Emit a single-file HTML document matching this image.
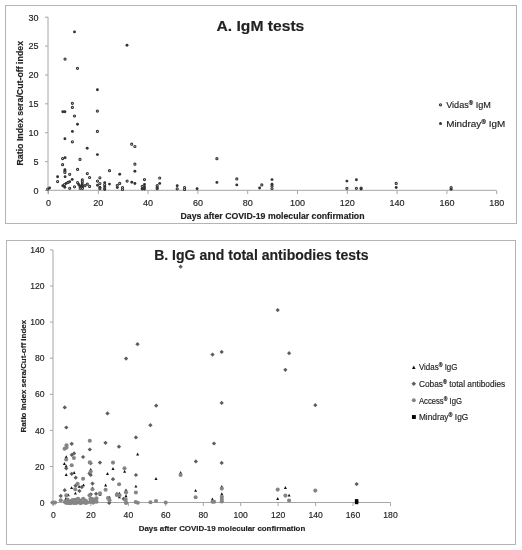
<!DOCTYPE html>
<html lang="en"><head><meta charset="utf-8"><title>IgM and IgG tests</title>
<style>html,body{margin:0;padding:0;background:#fff}svg{display:block}text{font-family:"Liberation Sans",sans-serif;fill:#222;stroke:#222;stroke-width:0.15px}</style>
</head><body>
<svg width="522" height="550" viewBox="0 0 522 550">
<rect width="522" height="550" fill="#fff"/>
<rect x="5.5" y="5.5" width="511" height="218" fill="#fff" stroke="#b4b4b4" stroke-width="1"/>
<rect x="6.5" y="240.5" width="509" height="304" fill="#fff" stroke="#b4b4b4" stroke-width="1"/>
<g stroke="#a6a6a6" stroke-width="1" fill="none">
<path d="M48 17 V194 M48 190.3 H496.5"/>
<path d="M45 190.5 H48"/>
<path d="M45 161.6 H48"/>
<path d="M45 132.7 H48"/>
<path d="M45 103.8 H48"/>
<path d="M45 75.0 H48"/>
<path d="M45 46.1 H48"/>
<path d="M45 17.2 H48"/>
<path d="M48.5 190.5 V194"/>
<path d="M98.3 190.5 V194"/>
<path d="M148.1 190.5 V194"/>
<path d="M197.9 190.5 V194"/>
<path d="M247.7 190.5 V194"/>
<path d="M297.5 190.5 V194"/>
<path d="M347.3 190.5 V194"/>
<path d="M397.1 190.5 V194"/>
<path d="M446.9 190.5 V194"/>
<path d="M496.7 190.5 V194"/>
</g>
<text x="38.5" y="193.8" font-size="9" text-anchor="end">0</text>
<text x="38.5" y="164.9" font-size="9" text-anchor="end">5</text>
<text x="38.5" y="136.0" font-size="9" text-anchor="end">10</text>
<text x="38.5" y="107.1" font-size="9" text-anchor="end">15</text>
<text x="38.5" y="78.3" font-size="9" text-anchor="end">20</text>
<text x="38.5" y="49.4" font-size="9" text-anchor="end">25</text>
<text x="38.5" y="20.5" font-size="9" text-anchor="end">30</text>
<text x="48.5" y="206.4" font-size="9" text-anchor="middle">0</text>
<text x="98.3" y="206.4" font-size="9" text-anchor="middle">20</text>
<text x="148.1" y="206.4" font-size="9" text-anchor="middle">40</text>
<text x="197.9" y="206.4" font-size="9" text-anchor="middle">60</text>
<text x="247.7" y="206.4" font-size="9" text-anchor="middle">80</text>
<text x="297.5" y="206.4" font-size="9" text-anchor="middle">100</text>
<text x="347.3" y="206.4" font-size="9" text-anchor="middle">120</text>
<text x="397.1" y="206.4" font-size="9" text-anchor="middle">140</text>
<text x="446.9" y="206.4" font-size="9" text-anchor="middle">160</text>
<text x="496.7" y="206.4" font-size="9" text-anchor="middle">180</text>
<text x="216.5" y="30.5" font-size="15" font-weight="bold" textLength="87.8" lengthAdjust="spacingAndGlyphs" fill="#000">A. IgM tests</text>
<text x="180.5" y="218.5" font-size="8.3" font-weight="bold" textLength="184" lengthAdjust="spacingAndGlyphs" fill="#000">Days after COVID-19 molecular confirmation</text>
<text transform="translate(22.7 165.5) rotate(-90)" font-size="8.3" font-weight="bold" textLength="124.6" lengthAdjust="spacingAndGlyphs" fill="#000">Ratio Index sera/Cut-off index</text>
<circle cx="440.5" cy="104.8" r="1.05" fill="#e8e8e8" stroke="#333" stroke-width="1.1"/>
<text x="446.2" y="108.2" font-size="8.8" textLength="44.7" lengthAdjust="spacingAndGlyphs">Vidas<tspan font-size="5.8" font-weight="bold" dy="-3">®</tspan><tspan dy="3"> IgM</tspan></text>
<circle cx="440.5" cy="123.5" r="1.5" fill="#333"/>
<text x="446.2" y="126.8" font-size="8.8" textLength="59" lengthAdjust="spacingAndGlyphs">Mindray<tspan font-size="5.8" font-weight="bold" dy="-3">®</tspan><tspan dy="3">  IgM</tspan></text>
<g fill="#e8e8e8" stroke="#333" stroke-width="1.1">
<circle cx="65.05" cy="59.1" r="1.05"/>
<circle cx="77.5" cy="68.3" r="1.05"/>
<circle cx="72.4" cy="103.3" r="1.05"/>
<circle cx="72.4" cy="107.4" r="1.05"/>
<circle cx="97.4" cy="111.1" r="1.05"/>
<circle cx="74.5" cy="116" r="1.05"/>
<circle cx="97.4" cy="131.4" r="1.05"/>
<circle cx="72.4" cy="141.8" r="1.05"/>
<circle cx="62.6" cy="158.6" r="1.05"/>
<circle cx="80.0" cy="159.4" r="1.05"/>
<circle cx="62.6" cy="164.7" r="1.05"/>
<circle cx="64.9" cy="171.1" r="1.05"/>
<circle cx="64.9" cy="172.5" r="1.05"/>
<circle cx="77.6" cy="169.4" r="1.05"/>
<circle cx="69.7" cy="174.3" r="1.05"/>
<circle cx="57.6" cy="181.6" r="1.05"/>
<circle cx="64.5" cy="184.5" r="1.05"/>
<circle cx="68.0" cy="182.4" r="1.05"/>
<circle cx="69.7" cy="188.3" r="1.05"/>
<circle cx="74.5" cy="186.8" r="1.05"/>
<circle cx="77.6" cy="182.6" r="1.05"/>
<circle cx="82.3" cy="179.9" r="1.05"/>
<circle cx="82.3" cy="181.8" r="1.05"/>
<circle cx="80.2" cy="186.4" r="1.05"/>
<circle cx="80.2" cy="188.3" r="1.05"/>
<circle cx="82.5" cy="188.3" r="1.05"/>
<circle cx="47.7" cy="189.1" r="1.05"/>
<circle cx="87.3" cy="173.6" r="1.05"/>
<circle cx="89.6" cy="177.5" r="1.05"/>
<circle cx="109.5" cy="170.7" r="1.05"/>
<circle cx="99.9" cy="177.8" r="1.05"/>
<circle cx="97.5" cy="181.1" r="1.05"/>
<circle cx="99.9" cy="183.5" r="1.05"/>
<circle cx="99.9" cy="188.7" r="1.05"/>
<circle cx="104.7" cy="184.5" r="1.05"/>
<circle cx="104.7" cy="188.3" r="1.05"/>
<circle cx="85" cy="185.7" r="1.05"/>
<circle cx="87.3" cy="184.1" r="1.05"/>
<circle cx="89.6" cy="186.4" r="1.05"/>
<circle cx="134.9" cy="164.2" r="1.05"/>
<circle cx="127.1" cy="181.1" r="1.05"/>
<circle cx="119.7" cy="183.4" r="1.05"/>
<circle cx="117.3" cy="185.3" r="1.05"/>
<circle cx="122.5" cy="187.6" r="1.05"/>
<circle cx="122.5" cy="189.5" r="1.05"/>
<circle cx="144.5" cy="179.6" r="1.05"/>
<circle cx="142.3" cy="186.4" r="1.05"/>
<circle cx="142.3" cy="188.5" r="1.05"/>
<circle cx="159.7" cy="178" r="1.05"/>
<circle cx="157.2" cy="185.7" r="1.05"/>
<circle cx="157.2" cy="188.7" r="1.05"/>
<circle cx="131.7" cy="144.2" r="1.05"/>
<circle cx="134.9" cy="146.5" r="1.05"/>
<circle cx="177.2" cy="188.8" r="1.05"/>
<circle cx="184.6" cy="187.6" r="1.05"/>
<circle cx="184.6" cy="189.5" r="1.05"/>
<circle cx="216.9" cy="158.7" r="1.05"/>
<circle cx="236.8" cy="178.9" r="1.05"/>
<circle cx="261.8" cy="184.9" r="1.05"/>
<circle cx="272" cy="186.1" r="1.05"/>
<circle cx="272" cy="188.5" r="1.05"/>
<circle cx="346.9" cy="188.3" r="1.05"/>
<circle cx="356.4" cy="188.3" r="1.05"/>
<circle cx="361.1" cy="188" r="1.05"/>
<circle cx="396.2" cy="183.4" r="1.05"/>
<circle cx="451.1" cy="187.6" r="1.05"/>
</g>
<g fill="#333">
<circle cx="74.5" cy="31.9" r="1.45"/>
<circle cx="97.4" cy="89.8" r="1.45"/>
<circle cx="62.8" cy="111.8" r="1.45"/>
<circle cx="64.9" cy="111.8" r="1.45"/>
<circle cx="77.5" cy="124.3" r="1.45"/>
<circle cx="72.4" cy="131.4" r="1.45"/>
<circle cx="64.9" cy="138.8" r="1.45"/>
<circle cx="127" cy="45.3" r="1.45"/>
<circle cx="65.1" cy="157.7" r="1.45"/>
<circle cx="64.9" cy="169.7" r="1.45"/>
<circle cx="57.6" cy="176.8" r="1.45"/>
<circle cx="65.1" cy="176.8" r="1.45"/>
<circle cx="72.2" cy="179.4" r="1.45"/>
<circle cx="62.8" cy="185.8" r="1.45"/>
<circle cx="66.1" cy="183.4" r="1.45"/>
<circle cx="69.7" cy="181.7" r="1.45"/>
<circle cx="64.8" cy="187.2" r="1.45"/>
<circle cx="78.7" cy="184.5" r="1.45"/>
<circle cx="82.3" cy="184.1" r="1.45"/>
<circle cx="82.5" cy="186.4" r="1.45"/>
<circle cx="49.6" cy="188" r="1.45"/>
<circle cx="87.2" cy="148.3" r="1.45"/>
<circle cx="97.4" cy="154.6" r="1.45"/>
<circle cx="97.5" cy="185.3" r="1.45"/>
<circle cx="99.9" cy="187.2" r="1.45"/>
<circle cx="104.7" cy="182.6" r="1.45"/>
<circle cx="104.7" cy="186.4" r="1.45"/>
<circle cx="104.7" cy="189.6" r="1.45"/>
<circle cx="109.5" cy="184.1" r="1.45"/>
<circle cx="80" cy="186" r="1.45"/>
<circle cx="82.4" cy="186" r="1.45"/>
<circle cx="119.7" cy="174.3" r="1.45"/>
<circle cx="134.9" cy="171.3" r="1.45"/>
<circle cx="131.8" cy="182.2" r="1.45"/>
<circle cx="134.9" cy="183.5" r="1.45"/>
<circle cx="117.3" cy="187.6" r="1.45"/>
<circle cx="144.5" cy="184.5" r="1.45"/>
<circle cx="144.5" cy="187" r="1.45"/>
<circle cx="142.3" cy="189" r="1.45"/>
<circle cx="144.5" cy="189" r="1.45"/>
<circle cx="159.7" cy="183.4" r="1.45"/>
<circle cx="157.2" cy="187.6" r="1.45"/>
<circle cx="177.2" cy="185.7" r="1.45"/>
<circle cx="197.1" cy="188.8" r="1.45"/>
<circle cx="216.9" cy="182.4" r="1.45"/>
<circle cx="236.8" cy="184.9" r="1.45"/>
<circle cx="259.6" cy="188" r="1.45"/>
<circle cx="272" cy="179.6" r="1.45"/>
<circle cx="272" cy="184.2" r="1.45"/>
<circle cx="346.9" cy="181.1" r="1.45"/>
<circle cx="356.4" cy="179.8" r="1.45"/>
<circle cx="361.1" cy="189" r="1.45"/>
<circle cx="396.2" cy="187.5" r="1.45"/>
<circle cx="451.1" cy="189.2" r="1.45"/>
</g>
<g stroke="#a6a6a6" stroke-width="1" fill="none">
<path d="M53 250 V506 M53 502.5 H390.5"/>
<path d="M50 502.6 H53"/>
<path d="M50 466.5 H53"/>
<path d="M50 430.4 H53"/>
<path d="M50 394.3 H53"/>
<path d="M50 358.2 H53"/>
<path d="M50 322.1 H53"/>
<path d="M50 286.0 H53"/>
<path d="M50 249.9 H53"/>
<path d="M53.5 502.5 V506"/>
<path d="M90.9 502.5 V506"/>
<path d="M128.4 502.5 V506"/>
<path d="M165.8 502.5 V506"/>
<path d="M203.3 502.5 V506"/>
<path d="M240.7 502.5 V506"/>
<path d="M278.1 502.5 V506"/>
<path d="M315.6 502.5 V506"/>
<path d="M353.0 502.5 V506"/>
<path d="M390.5 502.5 V506"/>
</g>
<text x="44.5" y="505.7" font-size="8.6" text-anchor="end">0</text>
<text x="44.5" y="469.6" font-size="8.6" text-anchor="end">20</text>
<text x="44.5" y="433.5" font-size="8.6" text-anchor="end">40</text>
<text x="44.5" y="397.4" font-size="8.6" text-anchor="end">60</text>
<text x="44.5" y="361.3" font-size="8.6" text-anchor="end">80</text>
<text x="44.5" y="325.2" font-size="8.6" text-anchor="end">100</text>
<text x="44.5" y="289.1" font-size="8.6" text-anchor="end">120</text>
<text x="44.5" y="253.0" font-size="8.6" text-anchor="end">140</text>
<text x="53.5" y="518.1" font-size="8.6" text-anchor="middle">0</text>
<text x="90.9" y="518.1" font-size="8.6" text-anchor="middle">20</text>
<text x="128.4" y="518.1" font-size="8.6" text-anchor="middle">40</text>
<text x="165.8" y="518.1" font-size="8.6" text-anchor="middle">60</text>
<text x="203.3" y="518.1" font-size="8.6" text-anchor="middle">80</text>
<text x="240.7" y="518.1" font-size="8.6" text-anchor="middle">100</text>
<text x="278.1" y="518.1" font-size="8.6" text-anchor="middle">120</text>
<text x="315.6" y="518.1" font-size="8.6" text-anchor="middle">140</text>
<text x="353.0" y="518.1" font-size="8.6" text-anchor="middle">160</text>
<text x="390.5" y="518.1" font-size="8.6" text-anchor="middle">180</text>
<text x="154.2" y="259.5" font-size="14" font-weight="bold" textLength="214.3" lengthAdjust="spacingAndGlyphs" fill="#000">B. IgG and total antibodies tests</text>
<text x="138.7" y="530.6" font-size="8.1" font-weight="bold" textLength="166.6" lengthAdjust="spacingAndGlyphs" fill="#000">Days after COVID-19 molecular confirmation</text>
<text transform="translate(25.8 432.4) rotate(-90)" font-size="8" font-weight="bold" textLength="112.5" lengthAdjust="spacingAndGlyphs" fill="#000">Ratio Index sera/Cut-off index</text>
<path d="M413.8 365.6 L415.6 369.1 H412.0 Z" fill="#111"/>
<text x="418.9" y="370.3" font-size="8.6" textLength="38.6" lengthAdjust="spacingAndGlyphs">Vidas<tspan font-size="5.6" font-weight="bold" dy="-3">®</tspan><tspan dy="3"> IgG</tspan></text>
<path d="M413.8 381.4 L416.1 383.7 L413.8 386 L411.5 383.7 Z" fill="#5e5e5e"/>
<text x="418.9" y="387" font-size="8.6" textLength="86.4" lengthAdjust="spacingAndGlyphs">Cobas<tspan font-size="5.6" font-weight="bold" dy="-3">®</tspan><tspan dy="3"> total antibodies</tspan></text>
<circle cx="413.8" cy="400.3" r="2" fill="#858585"/>
<text x="418.9" y="403.5" font-size="8.6" textLength="43.1" lengthAdjust="spacingAndGlyphs">Access<tspan font-size="5.6" font-weight="bold" dy="-3">®</tspan><tspan dy="3"> IgG</tspan></text>
<rect x="411.95" y="415.05" width="3.9" height="3.9" fill="#000"/>
<text x="418.9" y="420" font-size="8.6" textLength="49.4" lengthAdjust="spacingAndGlyphs">Mindray<tspan font-size="5.6" font-weight="bold" dy="-3">®</tspan><tspan dy="3"> IgG</tspan></text>
<g fill="#111">
<path d="M66.2 473.1 L67.7 476.1 H64.7 Z"/>
<path d="M74.1 471.1 L75.6 474.0 H72.6 Z"/>
<path d="M71.6 486.2 L73.1 489.1 H70.1 Z"/>
<path d="M75.4 491.7 L76.9 494.6 H73.9 Z"/>
<path d="M83.5 483.4 L85.0 486.3 H82.0 Z"/>
<path d="M79.1 484.9 L80.6 487.8 H77.6 Z"/>
<path d="M68.3 493.4 L69.8 496.3 H66.8 Z"/>
<path d="M65.9 496.9 L67.4 499.8 H64.4 Z"/>
<path d="M92.5 486.5 L94.0 489.4 H91.0 Z"/>
<path d="M107.5 472.1 L109.0 475.0 H106.0 Z"/>
<path d="M105.6 483.6 L107.1 486.5 H104.1 Z"/>
<path d="M116.9 491.7 L118.4 494.6 H115.4 Z"/>
<path d="M119.3 491.7 L120.8 494.6 H117.8 Z"/>
<path d="M119.3 495.4 L120.8 498.3 H117.8 Z"/>
<path d="M100 492.8 L101.5 495.7 H98.5 Z"/>
<path d="M109.5 495.7 L111.0 498.6 H108.0 Z"/>
<path d="M124.6 469.8 L126.1 472.7 H123.1 Z"/>
<path d="M156 477.0 L157.5 479.9 H154.5 Z"/>
<path d="M135.9 484.7 L137.4 487.6 H134.4 Z"/>
<path d="M126 488.4 L127.5 491.3 H124.5 Z"/>
<path d="M126 494.3 L127.5 497.2 H124.5 Z"/>
<path d="M66.2 455.2 L67.7 458.1 H64.7 Z"/>
<path d="M64.4 462.1 L65.9 465.0 H62.9 Z"/>
<path d="M66.2 464.4 L67.7 467.3 H64.7 Z"/>
<path d="M90.7 467.9 L92.2 470.8 H89.2 Z"/>
<path d="M113 467.1 L114.5 470.0 H111.5 Z"/>
<path d="M137.6 452.5 L139.1 455.4 H136.1 Z"/>
<path d="M180.6 471.1 L182.1 474.0 H179.1 Z"/>
<path d="M195.6 488.9 L197.1 491.8 H194.1 Z"/>
<path d="M212.4 497.5 L213.9 500.4 H210.9 Z"/>
<path d="M221.8 484.9 L223.3 487.8 H220.3 Z"/>
<path d="M221.8 492.3 L223.3 495.2 H220.3 Z"/>
<path d="M277.7 497.0 L279.2 499.9 H276.2 Z"/>
<path d="M285.4 486.0 L286.9 488.9 H283.9 Z"/>
<path d="M289.1 493.7 L290.6 496.6 H287.6 Z"/>
</g>
<g fill="#5e5e5e">
<path d="M60.8 493.8 L62.9 495.9 L60.8 498.0 L58.6 495.9 Z"/>
<path d="M64.7 488.1 L66.9 490.2 L64.7 492.3 L62.6 490.2 Z"/>
<path d="M71.7 471.7 L73.9 473.8 L71.7 475.9 L69.5 473.8 Z"/>
<path d="M75.7 475.6 L77.9 477.7 L75.7 479.8 L73.5 477.7 Z"/>
<path d="M75.6 483.6 L77.8 485.7 L75.6 487.8 L73.4 485.7 Z"/>
<path d="M79.4 488.8 L81.6 490.9 L79.4 493.0 L77.2 490.9 Z"/>
<path d="M81.8 485.0 L84.0 487.1 L81.8 489.2 L79.6 487.1 Z"/>
<path d="M89.5 471.2 L91.7 473.4 L89.5 475.5 L87.3 473.4 Z"/>
<path d="M90.7 472.9 L92.9 475 L90.7 477.1 L88.5 475 Z"/>
<path d="M92.5 481.5 L94.7 483.6 L92.5 485.8 L90.3 483.6 Z"/>
<path d="M90.8 492.2 L93.0 494.3 L90.8 496.4 L88.6 494.3 Z"/>
<path d="M96.1 491.7 L98.2 493.8 L96.1 495.9 L93.9 493.8 Z"/>
<path d="M113 477.1 L115.2 479.2 L113 481.3 L110.8 479.2 Z"/>
<path d="M109.2 500.9 L111.4 503 L109.2 505.1 L107.0 503 Z"/>
<path d="M135.9 472.9 L138.1 475 L135.9 477.1 L133.8 475 Z"/>
<path d="M126.1 490.5 L128.2 492.6 L126.1 494.8 L123.9 492.6 Z"/>
<path d="M123.6 496.7 L125.8 498.8 L123.6 500.9 L121.4 498.8 Z"/>
<path d="M71.7 441.7 L73.9 443.8 L71.7 445.9 L69.5 443.8 Z"/>
<path d="M71.8 452.8 L74.0 454.9 L71.8 457.0 L69.6 454.9 Z"/>
<path d="M74.1 451.2 L76.2 453.4 L74.1 455.5 L71.9 453.4 Z"/>
<path d="M83.1 454.9 L85.2 457 L83.1 459.1 L80.9 457 Z"/>
<path d="M66.2 466.2 L68.4 468.3 L66.2 470.4 L64.0 468.3 Z"/>
<path d="M89.8 447.4 L92.0 449.5 L89.8 451.6 L87.6 449.5 Z"/>
<path d="M105.5 440.7 L107.7 442.8 L105.5 444.9 L103.3 442.8 Z"/>
<path d="M118.9 444.6 L121.1 446.7 L118.9 448.8 L116.8 446.7 Z"/>
<path d="M90.7 461.1 L92.9 463.2 L90.7 465.3 L88.5 463.2 Z"/>
<path d="M99.9 460.5 L102.1 462.6 L99.9 464.8 L97.8 462.6 Z"/>
<path d="M135.9 435.2 L138.1 437.4 L135.9 439.5 L133.8 437.4 Z"/>
<path d="M137.5 342.1 L139.7 344.2 L137.5 346.3 L135.3 344.2 Z"/>
<path d="M126.1 356.5 L128.2 358.6 L126.1 360.8 L123.9 358.6 Z"/>
<path d="M64.75 405.2 L66.9 407.4 L64.75 409.5 L62.6 407.4 Z"/>
<path d="M107.5 411.2 L109.7 413.4 L107.5 415.5 L105.3 413.4 Z"/>
<path d="M66.3 425.4 L68.5 427.5 L66.3 429.6 L64.1 427.5 Z"/>
<path d="M150.4 423.1 L152.6 425.2 L150.4 427.3 L148.2 425.2 Z"/>
<path d="M180.6 264.6 L182.8 266.7 L180.6 268.8 L178.4 266.7 Z"/>
<path d="M212.5 352.5 L214.7 354.6 L212.5 356.8 L210.3 354.6 Z"/>
<path d="M221.7 349.8 L223.8 351.9 L221.7 354.0 L219.5 351.9 Z"/>
<path d="M156.2 403.6 L158.3 405.7 L156.2 407.8 L154.0 405.7 Z"/>
<path d="M221.7 400.8 L223.8 402.9 L221.7 405.0 L219.5 402.9 Z"/>
<path d="M214 441.4 L216.2 443.5 L214 445.6 L211.8 443.5 Z"/>
<path d="M195.8 459.2 L198.0 461.4 L195.8 463.5 L193.7 461.4 Z"/>
<path d="M221.7 460.8 L223.8 462.9 L221.7 465.0 L219.5 462.9 Z"/>
<path d="M277.7 308.0 L279.8 310.1 L277.7 312.2 L275.6 310.1 Z"/>
<path d="M289.1 351.1 L291.2 353.2 L289.1 355.3 L287.0 353.2 Z"/>
<path d="M285.4 367.7 L287.5 369.8 L285.4 371.9 L283.2 369.8 Z"/>
<path d="M315.3 403.1 L317.4 405.2 L315.3 407.3 L313.2 405.2 Z"/>
<path d="M356.6 482.0 L358.8 484.1 L356.6 486.2 L354.5 484.1 Z"/>
</g>
<g fill="#858585">
<circle cx="52.7" cy="502.6" r="2.05"/>
<circle cx="55" cy="502.6" r="2.05"/>
<circle cx="60.8" cy="500.2" r="2.05"/>
<circle cx="83.1" cy="478.8" r="2.05"/>
<circle cx="77.6" cy="483.8" r="2.05"/>
<circle cx="75.2" cy="489.2" r="2.05"/>
<circle cx="66.3" cy="495.4" r="2.05"/>
<circle cx="64.9" cy="501.9" r="2.05"/>
<circle cx="67.7" cy="499.9" r="2.05"/>
<circle cx="67.7" cy="503" r="2.05"/>
<circle cx="70.4" cy="501.2" r="2.05"/>
<circle cx="70.4" cy="503.3" r="2.05"/>
<circle cx="72.8" cy="502.3" r="2.05"/>
<circle cx="75.2" cy="499.9" r="2.05"/>
<circle cx="75.2" cy="503" r="2.05"/>
<circle cx="78" cy="498.8" r="2.05"/>
<circle cx="78" cy="502.3" r="2.05"/>
<circle cx="80.4" cy="500.6" r="2.05"/>
<circle cx="80.4" cy="503.1" r="2.05"/>
<circle cx="83.2" cy="498.8" r="2.05"/>
<circle cx="83.2" cy="502.3" r="2.05"/>
<circle cx="85.6" cy="500.6" r="2.05"/>
<circle cx="85.6" cy="503" r="2.05"/>
<circle cx="66" cy="502.8" r="2.05"/>
<circle cx="69" cy="502.8" r="2.05"/>
<circle cx="73.8" cy="503" r="2.05"/>
<circle cx="76.8" cy="502.8" r="2.05"/>
<circle cx="81.8" cy="502.6" r="2.05"/>
<circle cx="87.2" cy="502.4" r="2.05"/>
<circle cx="72.6" cy="500" r="2.05"/>
<circle cx="90.4" cy="498.8" r="2.05"/>
<circle cx="90.4" cy="501.9" r="2.05"/>
<circle cx="93.2" cy="499.9" r="2.05"/>
<circle cx="93.2" cy="502.6" r="2.05"/>
<circle cx="89.5" cy="495.3" r="2.05"/>
<circle cx="90.7" cy="471.5" r="2.05"/>
<circle cx="92.5" cy="489.2" r="2.05"/>
<circle cx="100" cy="493.4" r="2.05"/>
<circle cx="91.5" cy="498.8" r="2.05"/>
<circle cx="94.2" cy="499.5" r="2.05"/>
<circle cx="96.5" cy="498.4" r="2.05"/>
<circle cx="91.5" cy="501" r="2.05"/>
<circle cx="94.6" cy="501.5" r="2.05"/>
<circle cx="96.5" cy="501.8" r="2.05"/>
<circle cx="105.6" cy="489.8" r="2.05"/>
<circle cx="119.1" cy="484.2" r="2.05"/>
<circle cx="116.8" cy="494.9" r="2.05"/>
<circle cx="119.5" cy="495.3" r="2.05"/>
<circle cx="108" cy="498" r="2.05"/>
<circle cx="109.5" cy="500.3" r="2.05"/>
<circle cx="125.6" cy="499.2" r="2.05"/>
<circle cx="126" cy="492.3" r="2.05"/>
<circle cx="126" cy="502.2" r="2.05"/>
<circle cx="135.9" cy="492.5" r="2.05"/>
<circle cx="126.1" cy="503" r="2.05"/>
<circle cx="135.7" cy="502" r="2.05"/>
<circle cx="137.8" cy="502.8" r="2.05"/>
<circle cx="150.5" cy="502.2" r="2.05"/>
<circle cx="156" cy="501" r="2.05"/>
<circle cx="66.5" cy="445.3" r="2.05"/>
<circle cx="64.6" cy="448.8" r="2.05"/>
<circle cx="66.5" cy="447.6" r="2.05"/>
<circle cx="73.9" cy="458" r="2.05"/>
<circle cx="66.2" cy="459.5" r="2.05"/>
<circle cx="71.7" cy="465.2" r="2.05"/>
<circle cx="89.8" cy="440.7" r="2.05"/>
<circle cx="89.8" cy="462.4" r="2.05"/>
<circle cx="113" cy="462.6" r="2.05"/>
<circle cx="124.5" cy="468.3" r="2.05"/>
<circle cx="180.6" cy="474.9" r="2.05"/>
<circle cx="195.6" cy="497.2" r="2.05"/>
<circle cx="165.7" cy="502.5" r="2.05"/>
<circle cx="212.6" cy="501.8" r="2.05"/>
<circle cx="214.1" cy="501.8" r="2.05"/>
<circle cx="221.8" cy="488.6" r="2.05"/>
<circle cx="221.8" cy="496.8" r="2.05"/>
<circle cx="221.8" cy="499.1" r="2.05"/>
<circle cx="221.8" cy="501.4" r="2.05"/>
<circle cx="315.3" cy="490.6" r="2.05"/>
<circle cx="277.7" cy="489.6" r="2.05"/>
<circle cx="285.4" cy="495.6" r="2.05"/>
<circle cx="289.1" cy="500.5" r="2.05"/>
</g>
<g fill="#000">
<rect x="354.9" y="499.1" width="3.4" height="3.4"/>
<rect x="354.9" y="500.8" width="3.4" height="3.4"/>
</g>
</svg></body></html>
